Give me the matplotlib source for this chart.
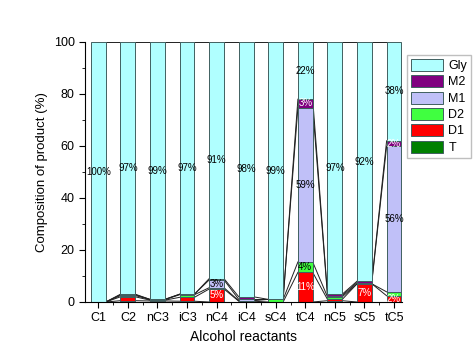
import matplotlib
matplotlib.use("Agg")
import matplotlib.pyplot as plt
import numpy as np

plt.rcParams['font.family'] = ['Liberation Sans', 'DejaVu Sans']

# alcohol reactants on the x axis
cats = ['C1', 'C2', 'nC3', 'iC3', 'nC4', 'iC4', 'sC4', 'tC4', 'nC5', 'sC5', 'tC5']

# product composition (%), stacked bottom to top: T, D1, D2, M1, M2, Gly
T   = [0.0, 0.5, 0.4, 0.3, 0.0, 0.0, 0.0, 0.0, 0.5, 0.0, 0.0]
D1  = [0.0, 1.5, 0.3, 1.5, 5.0, 0.3, 0.0, 11.4, 0.5, 7.0, 2.4]
D2  = [0.0, 0.5, 0.2, 1.0, 0.5, 0.2, 1.0, 4.0, 1.0, 0.0, 1.5]
M1  = [0.0, 0.3, 0.1, 0.2, 3.0, 0.5, 0.0, 59.4, 0.5, 0.5, 56.0]
M2  = [0.0, 0.2, 0.0, 0.0, 0.5, 1.0, 0.0, 3.2, 0.5, 0.5, 2.1]
Gly = [100, 97, 99, 97, 91, 98, 99, 22, 97, 92, 38]

series = [('T', T), ('D1', D1), ('D2', D2), ('M1', M1), ('M2', M2), ('Gly', Gly)]
colors = {'T': '#008000', 'D1': '#ff0000', 'D2': '#40ff40',
          'M1': '#c0c0f8', 'M2': '#800080', 'Gly': '#b0ffff'}

# segments that carry a percentage label: (series, category index, text colour)
labels = [('Gly', i, 'black') for i in range(len(cats))] + [
    ('D1', 4, 'white'), ('M1', 4, 'black'),
    ('D1', 7, 'white'), ('D2', 7, 'black'), ('M1', 7, 'black'), ('M2', 7, 'white'),
    ('D1', 9, 'white'),
    ('D1', 10, 'white'), ('M1', 10, 'black'), ('M2', 10, 'white'),
]

fig = plt.figure(figsize=(4.74, 3.62), dpi=100)
ax = fig.add_axes([85/474, 1-302/362, 317/474, 260/362])

x = np.arange(len(cats))
w = 0.5
bottom = np.zeros(len(cats))
bottoms = {}
handles = []
for name, vals in series:
    vals = np.array(vals, dtype=float)
    b = ax.bar(x, vals, w, bottom=bottom, color=colors[name],
               edgecolor='#406060', linewidth=0.7, label=name, zorder=2)
    bottoms[name] = bottom.copy()
    bottom = bottom + vals
    # connecting lines between neighbouring bars at each segment top
    for i in range(len(cats) - 1):
        ax.plot([x[i] + w/2, x[i+1] - w/2], [bottom[i], bottom[i+1]],
                color='#202020', lw=0.7, zorder=1)
    handles.append(b)

for name, i, tc in labels:
    vals = dict(series)[name]
    yc = bottoms[name][i] + vals[i] / 2
    ax.text(x[i], yc, '%d%%' % round(vals[i]), ha='center', va='center',
            fontsize=7, color=tc, zorder=3)

ax.set_xlim(-0.45, 10.27)
ax.set_ylim(0, 100)
ax.spines['top'].set_visible(False)
ax.spines['right'].set_visible(False)
ax.set_xticks(x)
ax.set_xticklabels(cats, fontsize=9)
ax.set_xticks(x[:-1] + 0.5, minor=True)
ax.set_yticks([0, 20, 40, 60, 80, 100])
ax.set_yticks(range(10, 100, 20), minor=True)
ax.tick_params(axis='both', which='major', direction='out', length=4, labelsize=9)
ax.tick_params(axis='both', which='minor', direction='out', length=2)
ax.set_ylabel('Composition of product (%)', fontsize=9.5)
ax.set_xlabel('Alcohol reactants', fontsize=10)

leg = fig.legend(handles[::-1], [s[0] for s in series][::-1],
                 loc='upper left', bbox_to_anchor=(407/474, 1-55/362),
                 fontsize=9, frameon=True, fancybox=False, edgecolor='#b0b0b0',
                 handlelength=2.6, handleheight=1.1, labelspacing=0.25,
                 borderpad=0.3, handletextpad=0.4, borderaxespad=0)

fig.savefig('out.png', dpi=100)
